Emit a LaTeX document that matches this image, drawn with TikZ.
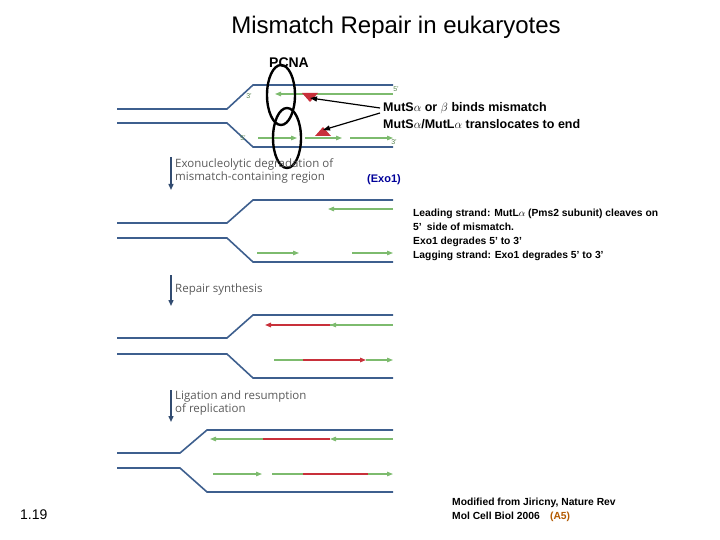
\documentclass[tikz,border=0pt]{standalone}
\usepackage{fontspec}
\setmainfont{Liberation Sans}
\newfontfamily\opensans{Open Sans}
\usetikzlibrary{arrows.meta,shapes.geometric}
\definecolor{strand}{HTML}{3E5F8E}
\definecolor{grn}{HTML}{7DBB6E}
\definecolor{rd}{HTML}{C8303A}
\definecolor{steptxt}{HTML}{5A5A5A}
\tikzset{
 dna/.style={strand,line width=1.6pt},
 g/.style={grn,line width=1.2pt},
 ga/.style={grn,line width=1.2pt,-{Triangle[length=6pt,width=4.5pt]}},
 r/.style={rd,line width=1.4pt},
 ra/.style={rd,line width=1.4pt,-{Triangle[length=6pt,width=4.5pt]}},
 steplbl/.style={anchor=west,text=steptxt,font=\opensans\fontsize{11.5}{13.5}\selectfont,align=left,inner sep=0pt},
 downarr/.style={strand!80!black,line width=1.4pt,-{Triangle[length=6pt,width=5pt]}},
 note/.style={anchor=west,font=\fontsize{10.3}{14}\selectfont\bfseries,inner sep=0pt,align=left},
 endlbl/.style={grn!70!black,font=\fontsize{7}{8}\selectfont,inner sep=0pt},
 pcna/.style={draw,line width=2.4pt,ellipse,minimum width=28pt,minimum height=60pt}
}
\begin{document}
\begin{tikzpicture}[x=1pt,y=-1pt]
\useasboundingbox (0,0) rectangle (720,540);
\node (title) at (396,27) {\fontsize{24}{28}\selectfont Mismatch Repair in eukaryotes};
\node (pcna) at (289,63) {\fontsize{14}{16}\selectfont\bfseries PCNA};
% panel 1
\draw[dna] (117,109) -- (227,109) -- (253,85) -- (393,85);
\draw[dna] (117,123) -- (227,123) -- (253,147) -- (393,147);
\draw[ga] (393,94) -- (275,94);
\draw[ga] (258,138) -- (297,138);
\draw[ga] (305,138) -- (342,138);
\draw[ga] (350,138) -- (393,138);
\node[endlbl] (t3a) at (249,96) {3'};
\node[endlbl] (t5a) at (396,89) {5'};
\node[endlbl] (t5b) at (243,138) {5'};
\node[endlbl] (t3b) at (394,142) {3'};
\coordinate (tri1) at (310,98);
\coordinate (tri2) at (323,130);
\fill[rd] (302,93) -- (318,93) -- (310,102) -- cycle;
\fill[rd] (315,136) -- (331,136) -- (323,127) -- cycle;
\node[pcna] (e1) at (281,95) {};
\node[pcna] (e2) at (287,138) {};
\node[note,font=\fontsize{12.5}{17}\selectfont\bfseries] (mut) at (383,116) {MutS$\alpha$ or $\beta$ binds mismatch\\MutS$\alpha$/MutL$\alpha$ translocates to end};
\coordinate (m1) at (380,108);
\coordinate (m2) at (380,113);
\draw[line width=1.2pt,-{Triangle[length=7pt,width=5pt]}] (m1) -- (tri1);
\draw[line width=1.2pt,-{Triangle[length=7pt,width=5pt]}] (m2) -- (tri2);
\draw[downarr] (171,157) -- (171,190);
\node[steplbl] (s1) at (175,171) {Exonucleolytic degradation of\\mismatch-containing region};
\node[anchor=west,inner sep=0pt,text=blue!60!black,font=\fontsize{11}{13}\selectfont\bfseries] (exo) at (367,180) {(Exo1)};
% panel 2
\draw[dna] (117,223) -- (227,223) -- (253,200) -- (393,200);
\draw[dna] (117,238) -- (227,238) -- (253,262) -- (393,262);
\draw[ga] (393,209) -- (328,209);
\draw[ga] (257,253) -- (299,253);
\draw[ga] (352,253) -- (393,253);
\node[note] (n2) at (413,235) {Leading strand: MutL$\alpha$ (Pms2 subunit) cleaves on\\5'\enspace side of mismatch.\\Exo1 degrades 5' to 3'\\Lagging strand: Exo1 degrades 5' to 3'};
\draw[downarr] (171,275) -- (171,306);
\node[steplbl] (s2) at (175,290) {Repair synthesis};
% panel 3
\draw[dna] (117,338) -- (227,338) -- (253,315) -- (393,315);
\draw[dna] (117,354) -- (227,354) -- (253,378) -- (393,378);
\draw[g] (393,325) -- (330,325);
\draw[grn,line width=1pt,-{Triangle[length=6pt,width=4.5pt]}] (340,325) -- (330,325);
\draw[ra] (330,325) -- (265,325);
\draw[g] (274,360) -- (303,360);
\draw[ra] (303,360) -- (366,360);
\draw[ga] (366,360) -- (393,360);
\draw[downarr] (171,390) -- (171,422);
\node[steplbl] (s3) at (175,403) {Ligation and resumption\\of replication};
% panel 4
\draw[dna] (117,453) -- (180,453) -- (207,430) -- (393,430);
\draw[dna] (117,468) -- (180,468) -- (207,492) -- (393,492);
\draw[ga] (393,439) -- (330,439);
\draw[r] (330,439) -- (263,439);
\draw[ga] (263,439) -- (210,439);
\draw[ga] (213,474) -- (262,474);
\draw[g] (272,474) -- (303,474);
\draw[r] (303,474) -- (368,474);
\draw[ga] (368,474) -- (393,474);
% footer
\node[anchor=west,inner sep=0pt,font=\fontsize{14}{16}\selectfont] (num) at (20,515) {1.19};
\node[note] (src) at (452,510) {Modified from Jiricny, Nature Rev\\Mol Cell Biol 2006\quad\textcolor{orange!70!black}{(A5)}};
\end{tikzpicture}
\end{document}
